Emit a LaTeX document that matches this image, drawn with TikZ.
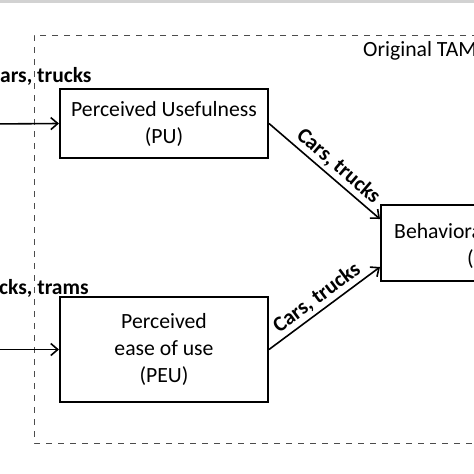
\documentclass[tikz,border=0pt]{standalone}
\usepackage{fontspec}
\setmainfont{Carlito}
\usetikzlibrary{arrows.meta,positioning,calc}

\begin{document}
\begin{tikzpicture}[x=1pt,y=-1pt,
    box/.style={draw, line width=2pt, minimum width=208pt, align=center,
      font=\fontsize{21.7}{27}\selectfont, inner sep=0pt},
    link/.style={line width=1.6pt, -{Straight Barb[length=7pt,width=12pt]}},
    tag/.style={font=\bfseries\fontsize{21.5}{24}\selectfont, inner sep=3pt}]
				\useasboundingbox (0,0) rectangle (474,474);
				\clip (0,0) rectangle (474,474);
				\fill[gray!35] (0,0) rectangle (474,2.5);

				% Original TAM frame
				\draw[gray!60!black, line width=1pt, dash pattern=on 6pt off 6pt] (490,35) -- (34,35) -- (34,443) -- (490,443);
				\node[anchor=west, font=\fontsize{21.7}{24}\selectfont, inner sep=0pt] (tam) at (363,51) {Original TAM};

				% Constructs
				\node[box, minimum height=69pt] (pu) at (164,123.5) {Perceived Usefulness\\(PU)};
				\node[box, minimum height=105pt] (peu) at (164,349.5) {Perceived\\ease of use\\(PEU)};
				\node[draw, line width=2pt, minimum width=200pt, minimum height=76pt, inner sep=0pt] (bi) at (481,243) {};
				\node[anchor=west, font=\fontsize{21.7}{24}\selectfont, inner sep=0pt] (bitext) at (394,231) {Behaviora};
				\node[anchor=west, font=\fontsize{21.7}{24}\selectfont, inner sep=0pt] (biabbr) at (467,259) {(};

				% External variables
				\coordinate (inpu) at (-10,124);
				\coordinate (inpeu) at (-10,349.5);
				\node[tag, anchor=west, inner sep=0pt] (extpu) at (0,76) {ars, trucks};
				\node[tag, anchor=west, inner sep=0pt] (extpeu) at (-1,288) {cks, trams};
				\draw[link] (inpu) -- (pu.west);
				\draw[link] (inpeu) -- (peu.west);

				% Paths to intention
				\draw[link] (pu.east) -- node[tag, sloped, above, pos=0.55] {Cars, trucks} ([yshift=24pt]bi.west);
				\draw[link] (peu.east) -- node[tag, sloped, above, pos=0.5] {Cars, trucks} ([yshift=-24pt]bi.west);
			\end{tikzpicture}
\end{document}
